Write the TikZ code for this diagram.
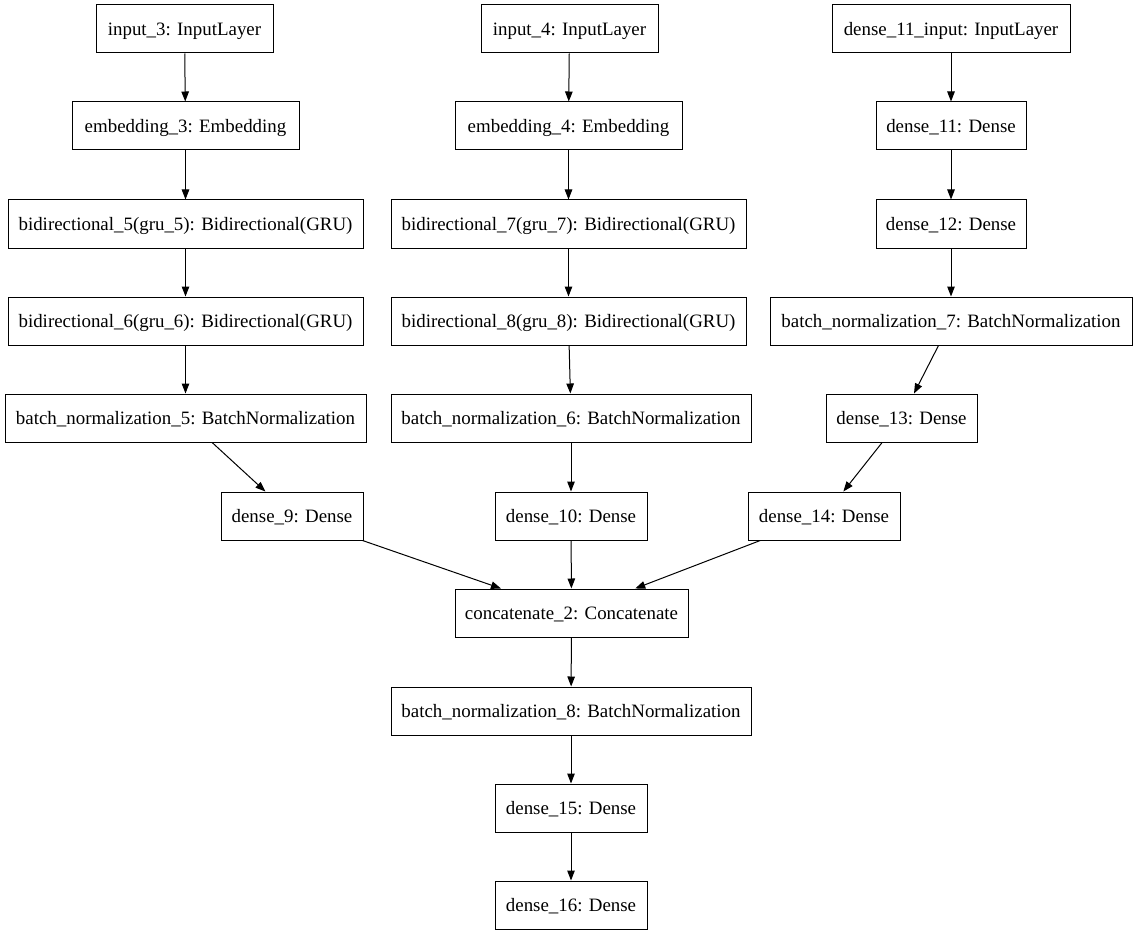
\documentclass[tikz,border=0pt]{standalone}
\usepackage{fontspec}
\setmainfont{Liberation Serif}
\usetikzlibrary{arrows.meta}
\begin{document}
\begin{tikzpicture}[x=1pt,y=-1pt,
  lay/.style={draw,line width=1pt,inner sep=0pt,minimum height=48pt,text height=15.5pt,text depth=3pt,font=\fontsize{18.9}{21}\selectfont},
  arr/.style={-{Triangle[length=10pt,width=7.5pt]},line width=1pt}]
\useasboundingbox (0,0) rectangle (1137,936);
\node[lay,minimum width=177pt] (in3) at (184.5,29) {input\_3: InputLayer};
\node[lay,minimum width=177pt] (in4) at (569.5,29) {input\_4: InputLayer};
\node[lay,minimum width=238pt] (d11in) at (951,29) {dense\_11\_input: InputLayer};
\node[lay,minimum width=227pt] (emb3) at (185.5,126) {embedding\_3: Embedding};
\node[lay,minimum width=227pt] (emb4) at (568.5,126) {embedding\_4: Embedding};
\node[lay,minimum width=150pt] (d11) at (951,126) {dense\_11: Dense};
\node[lay,minimum width=355pt] (bi5) at (185.5,224) {bidirectional\_5(gru\_5): Bidirectional(GRU)};
\node[lay,minimum width=355pt] (bi7) at (568.5,224) {bidirectional\_7(gru\_7): Bidirectional(GRU)};
\node[lay,minimum width=150pt] (d12) at (951,224) {dense\_12: Dense};
\node[lay,minimum width=355pt] (bi6) at (185.5,321) {bidirectional\_6(gru\_6): Bidirectional(GRU)};
\node[lay,minimum width=355pt] (bi8) at (568.5,321) {bidirectional\_8(gru\_8): Bidirectional(GRU)};
\node[lay,minimum width=362pt] (bn7) at (951,321) {batch\_normalization\_7: BatchNormalization};
\node[lay,minimum width=361pt] (bn5) at (185.5,418) {batch\_normalization\_5: BatchNormalization};
\node[lay,minimum width=360pt] (bn6) at (571,418) {batch\_normalization\_6: BatchNormalization};
\node[lay,minimum width=151pt] (d13) at (901.5,418) {dense\_13: Dense};
\node[lay,minimum width=142pt] (d9) at (292,516) {dense\_9: Dense};
\node[lay,minimum width=152pt] (d10) at (571,516) {dense\_10: Dense};
\node[lay,minimum width=152pt] (d14) at (824,516) {dense\_14: Dense};
\node[lay,minimum width=233pt] (cat) at (571.5,613) {concatenate\_2: Concatenate};
\node[lay,minimum width=360pt] (bn8) at (571,711) {batch\_normalization\_8: BatchNormalization};
\node[lay,minimum width=152pt] (d15) at (571,808) {dense\_15: Dense};
\node[lay,minimum width=152pt] (d16) at (571,905) {dense\_16: Dense};
\draw[arr] (in3) -- (emb3);
\draw[arr] (emb3) -- (bi5);
\draw[arr] (bi5) -- (bi6);
\draw[arr] (bi6) -- (bn5);
\draw[arr] (bn5) -- (d9);
\draw[arr] (in4) -- (emb4);
\draw[arr] (emb4) -- (bi7);
\draw[arr] (bi7) -- (bi8);
\draw[arr] (bi8) -- (bn6);
\draw[arr] (bn6) -- (d10);
\draw[arr] (d11in) -- (d11);
\draw[arr] (d11) -- (d12);
\draw[arr] (d12) -- (bn7);
\draw[arr] (bn7) -- (d13);
\draw[arr] (d13) -- (d14);
\draw[arr] (d9) -- (cat);
\draw[arr] (d10) -- (cat);
\draw[arr] (d14) -- (cat);
\draw[arr] (cat) -- (bn8);
\draw[arr] (bn8) -- (d15);
\draw[arr] (d15) -- (d16);
\end{tikzpicture}
\end{document}
